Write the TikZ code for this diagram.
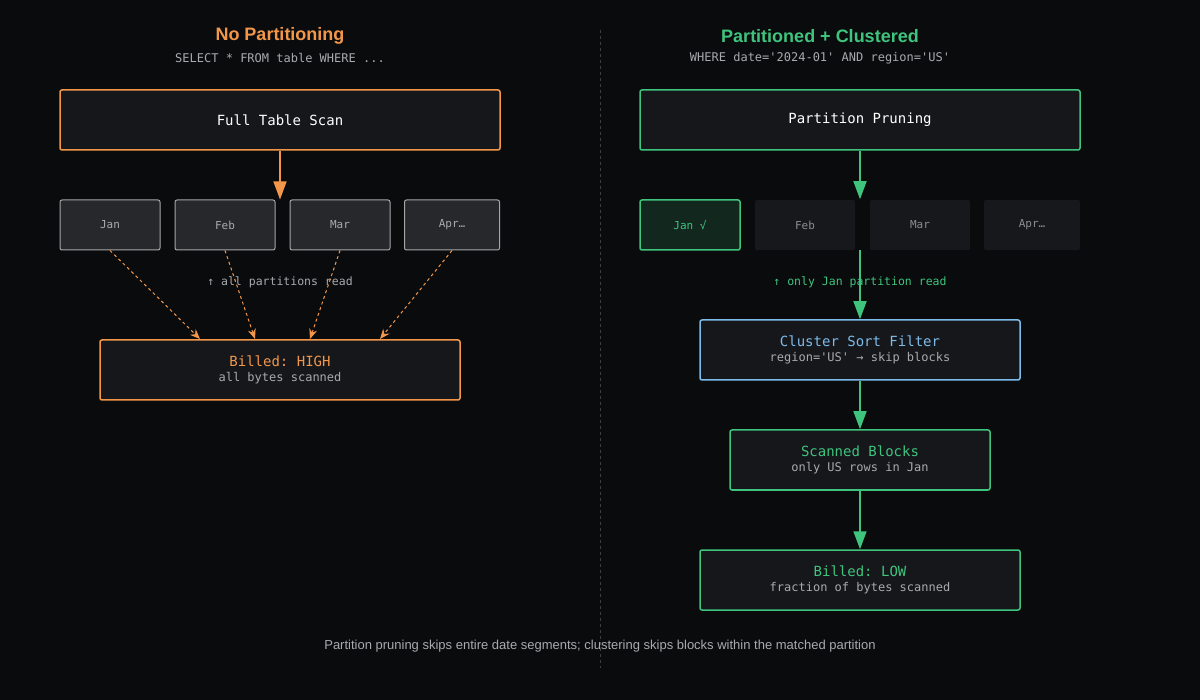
\documentclass[tikz,border=0pt]{standalone}
\usepackage{fontspec}
\setmainfont{Liberation Sans}
\setmonofont{DejaVu Sans Mono}
\usetikzlibrary{arrows.meta,positioning}
\definecolor{bgc}{HTML}{0A0B0D}
\definecolor{boxc}{HTML}{15171B}
\definecolor{orng}{HTML}{F2974A}
\definecolor{grn}{HTML}{3FC47E}
\definecolor{blu}{HTML}{7DBBEA}
\definecolor{txtc}{HTML}{A8AAAE}
\definecolor{partc}{HTML}{26282C}
\definecolor{dimc}{HTML}{17181B}
\tikzset{
  box/.style={draw, line width=1.5pt, fill=boxc, rounded corners=2pt, minimum height=60pt, font=\ttfamily\fontsize{14}{16}\selectfont, align=center},
  part/.style={draw=gray!70, line width=1pt, fill=partc, rounded corners=2pt, minimum width=100pt, minimum height=50pt, text=txtc, font=\ttfamily\fontsize{11}{13}\selectfont},
  dim/.style={fill=dimc, rounded corners=2pt, minimum width=100pt, minimum height=50pt, text=gray!40!dimc!60!white, font=\ttfamily\fontsize{11}{13}\selectfont},
  sub/.style={font=\ttfamily\fontsize{12}{14}\selectfont, text=txtc},
  arr/.style={-{Triangle[length=18pt,width=13pt]}, line width=1.5pt},
}
\begin{document}
\begin{tikzpicture}[x=1pt,y=-1pt]
  \fill[bgc] (0,0) rectangle (1200,700);
  \useasboundingbox (0,0) rectangle (1200,700);
  \draw[dashed, gray!45!bgc, line width=1pt] (600,30) -- (600,668);
  % left side
  \node[text=orng, font=\bfseries\fontsize{18}{20}\selectfont] (ltitle) at (280,36) {No Partitioning};
  \node[sub] (lquery) at (280,58) {SELECT * FROM table WHERE ...};
  \node[box, draw=orng, text=white, minimum width=440pt] (scan) at (280,120) {Full Table Scan};
  \node[part] (jan) at (110,225) {Jan};
  \node[part] (feb) at (225,225) {Feb};
  \node[part] (mar) at (340,225) {Mar};
  \node[part, minimum width=95pt] (apr) at (452,225) {Apr…};
  \node[sub, font=\ttfamily\fontsize{11.5}{13}\selectfont] (allnote) at (280,282) {↑ all partitions read};
  \node[box, draw=orng, minimum width=360pt] (billhi) at (280,370)
    {\textcolor{orng}{Billed: HIGH}\\[-1pt]{\fontsize{12}{14}\selectfont\textcolor{txtc}{all bytes scanned}}};
  \draw[arr, draw=orng, fill=orng] (scan) -- (scan|-jan.north);
  \foreach \p/\x in {jan/200, feb/255, mar/310, apr/380}
    \draw[dashed, -{Stealth[length=10pt,width=8pt]}, orng, line width=1pt] (\p.south) -- (\x,339);
  % right side
  \node[text=grn, font=\bfseries\fontsize{18}{20}\selectfont] (rtitle) at (820,36) {Partitioned + Clustered};
  \node[sub] (rquery) at (820,58) {WHERE date='2024-01' AND region='US'};
  \node[box, draw=grn, text=white, minimum width=440pt] (prune) at (860,120) {Partition Pruning};
  \node[part, draw=grn, fill=grn!15!bgc, text=grn, line width=1.5pt] (rjan) at (690,225) {Jan √};
  \node[dim] (rfeb) at (805,225) {Feb};
  \node[dim] (rmar) at (920,225) {Mar};
  \node[dim, minimum width=96pt] (rapr) at (1032,225) {Apr…};
  \coordinate (gap) at (860,250);
  \node[sub, text=grn, font=\ttfamily\fontsize{11.5}{13}\selectfont] (onlynote) at (860,282) {↑ only Jan partition read};
  \node[box, draw=blu, minimum width=320pt] (cluster) at (860,350)
    {\textcolor{blu}{Cluster Sort Filter}\\[-1pt]{\fontsize{12}{14}\selectfont\textcolor{txtc}{region='US' → skip blocks}}};
  \node[box, draw=grn, minimum width=260pt] (blocks) at (860,460)
    {\textcolor{grn}{Scanned Blocks}\\[-1pt]{\fontsize{12}{14}\selectfont\textcolor{txtc}{only US rows in Jan}}};
  \node[box, draw=grn, minimum width=320pt] (billlo) at (860,580)
    {\textcolor{grn}{Billed: LOW}\\[-1pt]{\fontsize{12}{14}\selectfont\textcolor{txtc}{fraction of bytes scanned}}};
  \draw[arr, draw=grn, fill=grn] (prune) -- (prune|-rjan.north);
  \draw[arr, draw=grn, fill=grn] (gap) -- (cluster);
  \draw[arr, draw=grn, fill=grn] (cluster) -- (blocks);
  \draw[arr, draw=grn, fill=grn] (blocks) -- (billlo);
  % caption
  \node[text=txtc, font=\fontsize{13}{15}\selectfont] (caption) at (600,646)
    {Partition pruning skips entire date segments; clustering skips blocks within the matched partition};
\end{tikzpicture}
\end{document}
